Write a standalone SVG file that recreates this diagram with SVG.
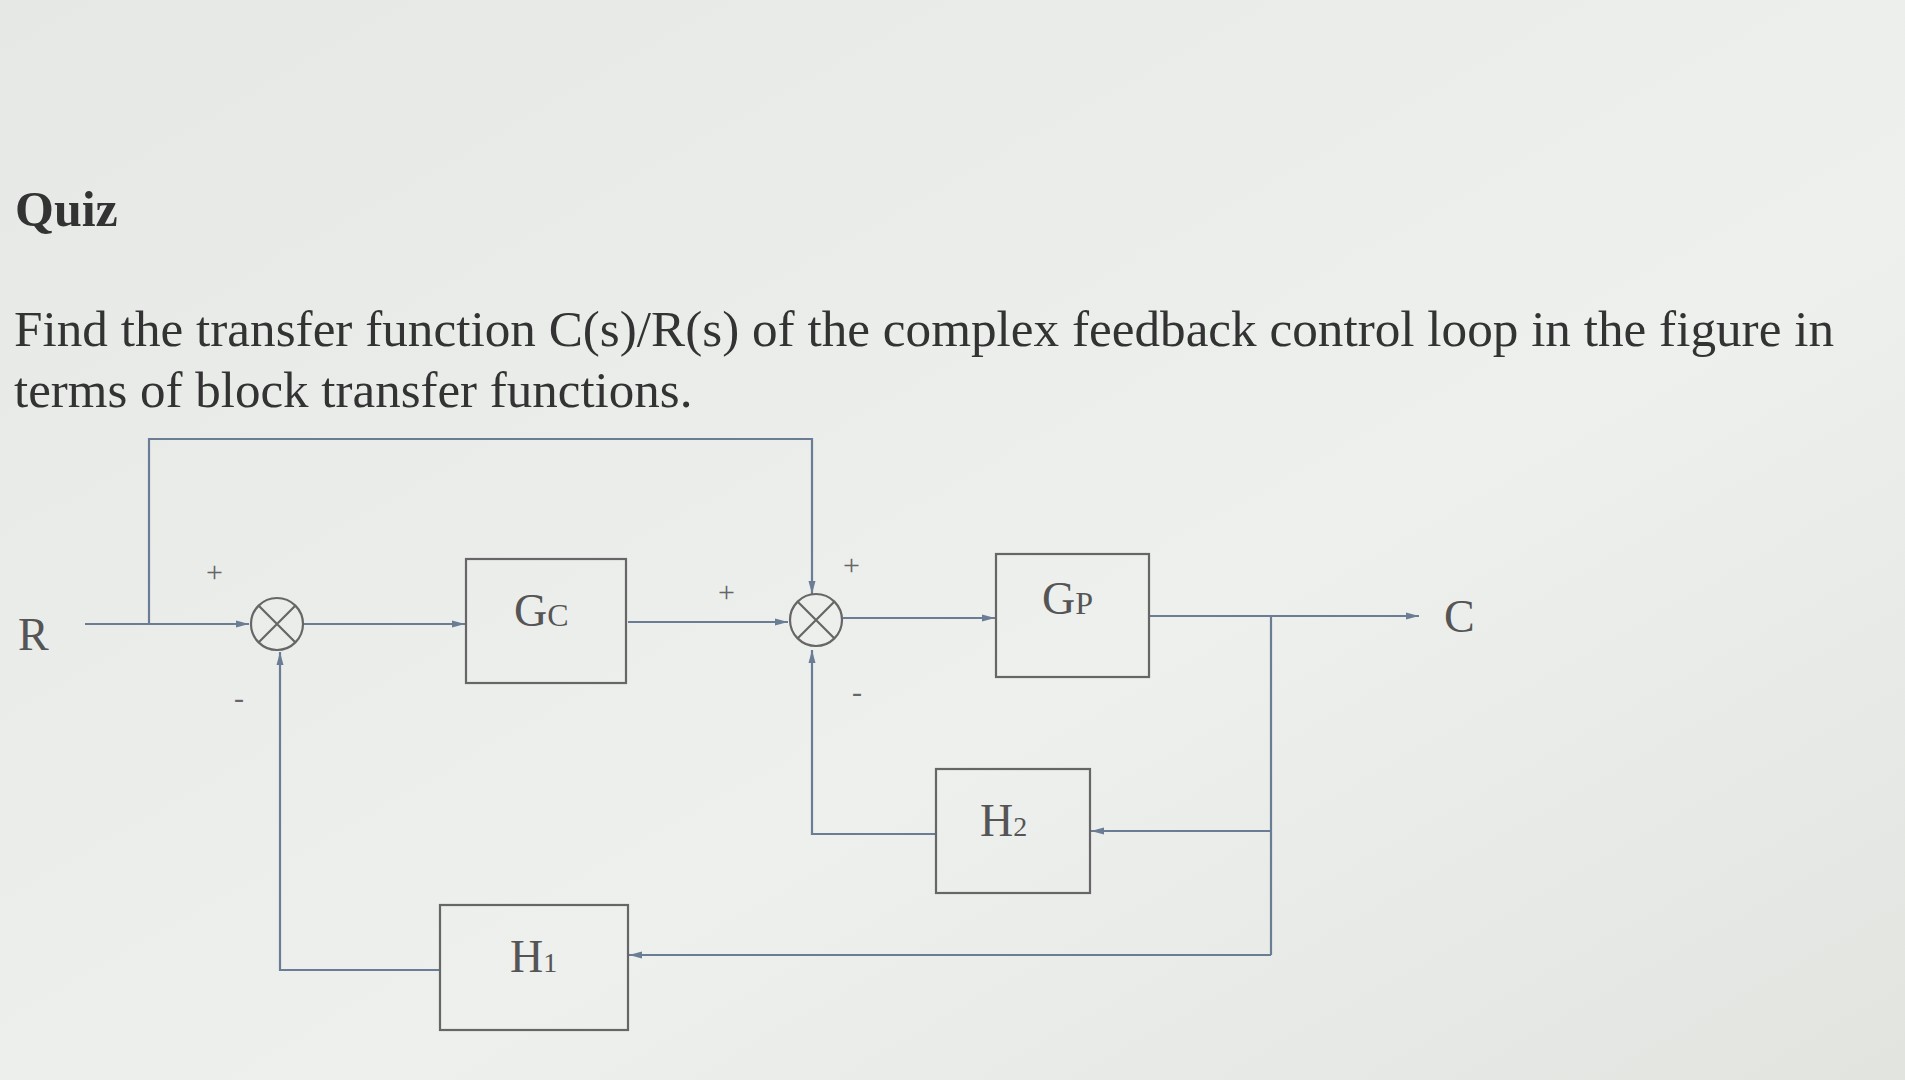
<svg xmlns="http://www.w3.org/2000/svg" width="1905" height="1080" viewBox="0 0 1905 1080">
<defs>
<linearGradient id="bg" x1="0" y1="0" x2="1" y2="1"><stop offset="0" stop-color="#e6e8e6"/><stop offset="0.6" stop-color="#eef0ee"/><stop offset="1" stop-color="#e2e4e0"/></linearGradient>
<marker id="ar" markerWidth="14" markerHeight="10" refX="13" refY="5" orient="auto" markerUnits="userSpaceOnUse"><path d="M0,1.5 L13,5 L0,8.5 Z" fill="#6b7d94"/></marker>
<style>
.t{font-family:"Liberation Serif",serif;fill:#333}
.l{fill:none;stroke:#6b7d94;stroke-width:2.2}
.b{fill:none;stroke:#666;stroke-width:2.2}
.n{font-family:"Liberation Serif",serif;fill:#555;font-size:46px}
.s{font-family:"Liberation Serif",serif;fill:#666;font-size:30px}
</style>
</defs>
<rect width="1905" height="1080" fill="url(#bg)"/>
<text class="t" x="15" y="226" font-size="50" font-weight="bold">Quiz</text>
<text class="t" x="14" y="346" font-size="46" textLength="1820" lengthAdjust="spacingAndGlyphs" style="font-size:51px">Find the transfer function C(s)/R(s) of the complex feedback control loop in the figure in</text>
<text class="t" x="14" y="407" style="font-size:51px">terms of block transfer functions.</text>
<g id="connectors">
<path class="l" d="M85,624 H249" marker-end="url(#ar)"/>
<path class="l" d="M149,624 V439 H812 V594" marker-end="url(#ar)"/>
<path class="l" d="M304,624 H465" marker-end="url(#ar)"/>
<path class="l" d="M628,622 H788" marker-end="url(#ar)"/>
<path class="l" d="M843,618 H995" marker-end="url(#ar)"/>
<path class="l" d="M1150,616 H1419" marker-end="url(#ar)"/>
<path class="l" d="M1271,616 V955"/>
<path class="l" d="M1271,831 H1091" marker-end="url(#ar)"/>
<path class="l" d="M936,834 H812 V650" marker-end="url(#ar)"/>
<path class="l" d="M1271,955 H629" marker-end="url(#ar)"/>
<path class="l" d="M440,970 H280 V652" marker-end="url(#ar)"/>
</g>
<g id="sum1"><circle class="b" cx="277" cy="624" r="26"/><path class="b" d="M259,606 L295,642 M295,606 L259,642"/></g>
<g id="sum2"><circle class="b" cx="816" cy="620" r="26"/><path class="b" d="M798,602 L834,638 M834,602 L798,638"/></g>
<g id="Gc"><rect class="b" x="466" y="559" width="160" height="124"/><text class="n" x="514" y="626">G<tspan font-size="32">C</tspan></text></g>
<g id="Gp"><rect class="b" x="996" y="554" width="153" height="123"/><text class="n" x="1042" y="614">G<tspan font-size="32">P</tspan></text></g>
<g id="H2"><rect class="b" x="936" y="769" width="154" height="124"/><text class="n" x="980" y="836">H<tspan font-size="28">2</tspan></text></g>
<g id="H1"><rect class="b" x="440" y="905" width="188" height="125"/><text class="n" x="510" y="972">H<tspan font-size="28">1</tspan></text></g>
<text class="n" x="18" y="650">R</text>
<text class="n" x="1444" y="632">C</text>
<text class="s" x="206" y="582">+</text>
<text class="s" x="234" y="708">-</text>
<text class="s" x="718" y="602">+</text>
<text class="s" x="843" y="575">+</text>
<text class="s" x="852" y="702">-</text>
</svg>
